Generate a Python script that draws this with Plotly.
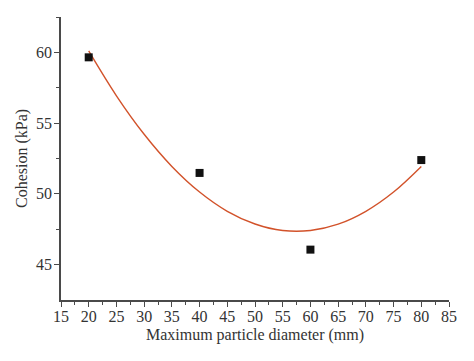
import plotly.graph_objects as go

# Measured data
diameter_mm = [20, 40, 60, 80]
cohesion_kpa = [59.65, 51.48, 46.06, 52.39]

# Fitted curve every 5 mm
curve_x = [20, 25, 30, 35, 40, 45, 50, 55, 60, 65, 70, 75, 80]
curve_y = [60.10, 56.93, 54.21, 51.94, 50.13, 48.77, 47.87, 47.41, 47.41, 47.86, 48.77, 50.13, 51.94]

x_ticks = [15, 20, 25, 30, 35, 40, 45, 50, 55, 60, 65, 70, 75, 80, 85]
y_ticks = [45, 50, 55, 60]

font_family = "Liberation Serif, Times New Roman, serif"
axis_color = "#4a4a4a"

fig = go.Figure()
fig.add_trace(go.Scatter(
    x=curve_x, y=curve_y, mode="lines",
    line=dict(color="#d2522a", width=1.4, shape="spline", smoothing=1.0),
    showlegend=False, hoverinfo="skip",
))
fig.add_trace(go.Scatter(
    x=diameter_mm, y=cohesion_kpa, mode="markers",
    marker=dict(symbol="square", size=8, color="#111111"),
    showlegend=False,
))

fig.update_layout(
    width=466, height=353,
    margin=dict(l=53, r=25, t=9, b=61),
    paper_bgcolor="white", plot_bgcolor="white",
    font=dict(family=font_family, size=16, color="#333333"),
    xaxis=dict(
        range=[15, 85], tickvals=x_ticks, ticks="outside", ticklen=5, tickwidth=1.2,
        tickcolor=axis_color, showline=True, linecolor=axis_color, linewidth=1.5,
        showgrid=False, zeroline=False, automargin=False, ticklabelstandoff=-4,
        minor=dict(tickvals=[v + 2.5 for v in x_ticks[:-1]], ticks="outside", ticklen=3, tickcolor=axis_color, tickwidth=1),
        title=dict(text="Maximum particle diameter (mm)", font=dict(size=16), standoff=5),
        tickfont=dict(size=16),
    ),
    yaxis=dict(
        range=[42.5, 62.5], tickvals=y_ticks, ticks="outside", ticklen=5, tickwidth=1.2,
        tickcolor=axis_color, showline=True, linecolor=axis_color, linewidth=1.5,
        showgrid=False, zeroline=False, automargin=False, ticklabelstandoff=-1,
        minor=dict(tickvals=[47.5, 52.5, 57.5, 62.5], ticks="outside", ticklen=3, tickcolor=axis_color, tickwidth=1),
        title=dict(text="Cohesion (kPa)", font=dict(size=16), standoff=4),
        tickfont=dict(size=16),
    ),
)

fig.write_html("out.html")
